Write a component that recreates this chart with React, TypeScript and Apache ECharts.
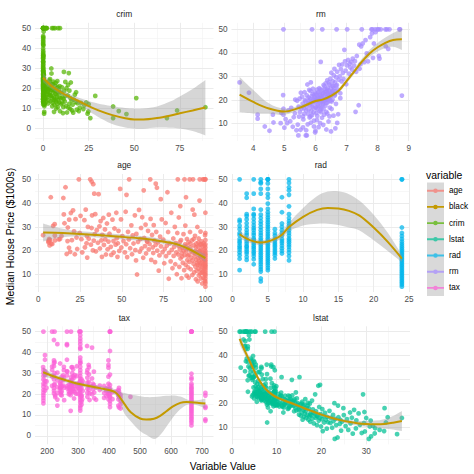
import { useEffect, useRef } from "react";
import * as echarts from "echarts";

type Pt = [number, number];

// ---------- observations: [variable value, median house price ($1000s)] ----------
const crimPoints: Pt[] = [
  [0.006,24.0],[0.027,21.6],[0.027,34.7],[0.032,33.4],[0.069,36.2],[0.030,28.7],[0.088,22.9],[0.145,27.1],[0.211,16.5],[0.170,18.9],
  [0.225,15.0],[0.117,18.9],[0.094,21.7],[0.630,20.4],[0.638,18.2],[0.627,19.9],[0.805,23.1],[0.726,17.5],[0.842,20.2],[0.672,18.2],
  [0.750,13.6],[0.848,19.6],[0.672,15.2],[0.880,14.5],[0.522,15.6],[0.470,13.9],[0.330,16.6],[0.250,14.8],[0.410,18.4],[0.080,21.0],
  [0.110,12.7],[0.060,14.5],[0.100,13.2],[0.050,13.1],[0.040,25.0],[0.020,30.8],[0.060,34.9],[0.040,26.6],[0.050,25.3],[0.040,24.7],
  [0.020,21.2],[0.050,19.3],[0.070,20.0],[0.060,16.6],[0.030,14.4],[0.090,19.4],[0.040,19.7],[0.020,20.5],[0.180,25.0],[0.130,23.4],
  [0.010,35.4],[0.020,24.7],[0.030,31.6],[0.030,23.3],[0.070,18.7],[0.020,16.0],[0.040,22.2],[0.040,33.0],[0.060,22.0],[0.020,17.4],
  [0.100,20.9],[0.360,24.2],[0.140,21.7],[0.070,22.8],[0.080,23.4],[0.050,24.1],[0.120,20.0],[0.290,20.8],[0.540,21.2],[0.060,28.0],
  [0.160,24.8],[0.090,26.6],[0.050,22.5],[0.030,23.6],[0.040,28.7],[0.030,20.6],[0.050,28.4],[0.030,38.7],[0.040,43.8],[0.030,33.2],
  [0.300,27.5],[0.440,26.5],[0.210,18.6],[0.170,19.5],[0.270,19.4],[0.340,22.8],[0.090,18.5],[0.280,19.2],[0.550,21.4],[0.250,15.7],
  [0.430,16.2],[0.350,18.0],[0.020,14.3],[0.040,15.6],[0.030,17.1],[0.030,13.3],[0.120,14.0],[0.160,13.4],[0.050,11.8],[0.010,14.6],
  [0.060,21.5],[0.130,41.3],[0.150,24.3],[0.030,27.0],[0.020,37.2],[0.030,39.8],[0.050,41.7],[0.060,43.1],[0.090,44.8],[0.040,46.0],
  [0.310,48.3],[0.060,45.4],[0.020,42.3],[0.040,36.5],[0.070,37.9],[0.130,36.1],[0.020,29.9],[0.080,32.0],[0.100,29.1],[0.050,30.1],
  [0.550,7.2],[0.620,8.1],[0.450,11.9],[0.750,12.3],[0.820,11.7],[0.680,10.9],
  [0.014,50.0],[0.015,50.0],[0.020,50.0],[0.056,50.0],[0.058,50.0],[0.061,50.0],[0.130,50.0],[0.527,50.0],[0.612,50.0],[0.330,50.0],
  [1.463,50.0],[1.519,50.0],[1.834,50.0],[2.010,50.0],[4.898,50.0],[5.670,50.0],[6.539,50.0],[8.267,50.0],[9.232,50.0],
  [1.2,14.5],[1.1,19.4],[1.3,17.8],[1.4,15.6],[1.6,13.1],[1.8,19.6],[1.5,21.5],[2.0,17.0],[2.3,15.3],[2.4,19.4],
  [2.9,19.1],[3.3,22.2],[3.5,23.7],[3.7,17.8],[3.8,24.5],[4.0,20.0],[4.1,13.4],[4.2,16.1],[4.5,29.8],[4.6,27.3],
  [4.8,21.9],[4.9,15.0],[5.2,12.7],[5.4,19.1],[5.6,23.2],[5.8,18.3],[5.9,14.1],[6.2,11.7],[6.5,21.2],[6.7,17.2],
  [6.9,22.6],[7.0,13.4],[7.4,19.9],[7.6,15.6],[7.8,23.5],[8.0,10.4],[8.2,17.7],[8.6,19.0],[8.8,12.8],[9.0,21.0],
  [9.3,8.4],[9.6,14.9],[9.9,12.0],[10.1,17.4],[10.3,20.4],[10.7,15.2],[11.1,10.5],[11.4,28.1],[11.6,18.6],[11.9,13.3],
  [12.2,23.1],[12.5,11.0],[12.8,19.9],[13.1,7.8],[13.5,16.3],[13.7,21.6],[14.1,27.5],[14.3,12.1],[14.4,18.7],[14.8,9.6],
  [15.0,15.0],[15.2,22.8],[15.6,13.8],[15.9,8.8],[16.2,11.7],[16.8,14.3],[17.4,16.7],[17.9,13.0],[18.1,17.9],[18.5,9.2],
  [18.8,12.4],[19.6,8.5],[20.1,10.2],[20.7,12.6],[22.1,9.5],[22.6,11.3],[23.6,12.8],[24.4,7.2],[24.8,8.3],[25.0,11.9],
  [25.9,5.0],[28.6,16.1],[38.4,10.8],[38.4,5.0],[41.5,8.5],[45.7,7.0],[51.1,15.0],[67.9,5.0],[73.5,8.8],[89.0,10.4],
  [2.7,12.3],[3.1,16.8],[5.0,10.9],[6.0,8.1],[7.2,9.8],[8.4,13.9],[10.9,7.5],[12.0,16.1],[13.9,10.2],[16.5,7.7],
  [1.7,23.0],[2.2,20.8],[2.6,18.1],[3.0,14.0],[3.4,19.9],[3.9,16.5],[4.4,21.4],[4.7,18.9],[5.1,16.2],[5.5,21.9],
  [6.1,15.1],[6.4,18.8],[6.8,14.2],[7.3,16.9],[7.7,12.1],[8.1,20.4],[8.9,15.4],[9.4,17.9],[10.5,12.7],[11.3,14.6],
];

const rmPoints: Pt[] = [
  [3.56,27.5],[3.86,23.1],[4.14,13.8],[4.14,12.1],[4.37,8.8],[4.52,7.0],[4.63,13.8],[4.65,10.5],[4.88,10.2],[4.90,14.6],
  [4.96,22.1],[4.97,50.0],[4.97,13.8],[4.97,16.3],
  [5.00,8.3],[5.04,11.9],[5.09,10.2],[5.13,15.6],[5.19,11.0],[5.22,16.7],[5.27,8.7],[5.30,12.7],[5.34,14.4],[5.35,20.2],
  [5.39,7.2],[5.41,19.7],[5.43,9.6],[5.45,5.0],[5.46,17.2],[5.47,13.0],[5.49,20.6],[5.50,14.9],[5.52,7.4],[5.53,23.1],
  [5.55,16.3],[5.57,21.4],[5.59,18.5],[5.60,13.1],[5.61,11.8],[5.63,16.5],[5.65,23.3],[5.66,20.0],[5.68,19.4],[5.69,5.0],
  [5.70,15.6],[5.71,17.4],[5.72,22.0],[5.74,26.6],[5.75,9.7],[5.76,14.1],[5.77,18.7],[5.78,21.1],[5.79,19.8],[5.80,24.3],
  [5.81,12.6],[5.82,17.8],[5.83,20.6],[5.84,23.9],[5.85,27.5],[5.86,15.3],[5.87,19.1],[5.88,21.7],[5.89,50.0],[5.89,13.6],
  [5.90,18.4],[5.91,22.6],[5.92,24.8],[5.93,16.6],[5.94,20.3],[5.95,11.3],[5.96,19.5],[5.97,21.2],[5.98,23.1],[5.99,6.3],
  [6.00,17.0],[6.00,18.9],[6.01,20.1],[6.02,22.4],[6.03,14.5],[6.04,19.6],[6.05,24.4],[6.06,16.1],[6.07,21.0],[6.08,18.2],
  [6.09,23.3],[6.10,8.5],[6.11,19.9],[6.12,25.0],[6.13,20.8],[6.14,15.4],[6.15,22.2],[6.16,17.2],[6.17,36.2],[6.18,21.5],
  [6.19,19.3],[6.20,24.1],[6.21,12.5],[6.22,50.0],[6.23,20.6],[6.24,23.0],[6.25,18.0],[6.26,26.4],[6.27,21.7],[6.28,13.8],
  [6.29,19.8],[6.30,24.7],[6.31,22.5],[6.32,17.6],[6.33,27.1],[6.34,20.3],[6.35,15.0],[6.36,23.8],[6.37,21.1],[6.38,28.4],
  [6.39,19.0],[6.40,25.3],[6.41,22.0],[6.42,10.9],[6.43,24.0],[6.44,20.7],[6.45,26.6],[6.46,16.8],[6.47,23.1],[6.48,29.1],
  [6.49,21.4],[6.50,24.8],[6.51,31.6],[6.52,19.4],[6.53,26.2],[6.55,22.8],[6.56,28.0],[6.57,24.0],[6.58,13.4],[6.59,30.5],
  [6.60,25.0],[6.61,33.2],[6.62,21.9],[6.63,27.5],[6.64,8.0],[6.65,23.7],[6.67,29.6],[6.68,50.0],[6.69,26.4],[6.70,32.0],
  [6.72,24.5],[6.73,14.0],[6.75,28.6],[6.76,34.9],[6.78,30.1],[6.80,22.9],[6.82,33.1],[6.84,27.9],[6.86,35.1],[6.88,31.5],
  [6.90,29.0],[6.93,41.3],[6.95,36.4],[6.97,32.5],[6.99,26.7],[7.01,34.7],[7.02,50.0],[7.05,37.0],[7.08,31.2],[7.10,35.4],
  [7.12,33.8],[7.15,36.2],[7.18,32.9],[7.20,37.6],[7.24,34.6],[7.27,36.5],[7.29,15.0],[7.31,32.0],[7.33,38.7],[7.39,17.8],
  [7.41,43.5],[7.42,33.3],[7.45,35.2],[7.47,42.8],[7.49,50.0],[7.52,44.0],[7.57,36.1],[7.61,45.4],[7.65,39.8],[7.69,36.4],
  [7.76,46.7],[7.80,50.0],[7.82,48.3],[7.83,50.0],[7.85,37.9],[7.88,44.0],[7.92,50.0],[7.93,48.8],[8.00,50.0],[8.03,50.0],
  [8.04,38.7],[8.06,37.6],[8.10,50.0],[8.25,50.0],[8.26,42.8],[8.30,50.0],[8.34,41.7],[8.38,50.0],[8.70,50.0],[8.72,50.0],
  [8.78,21.9],[5.60,8.4],[5.70,7.2],[5.85,10.4],[5.95,8.8],[6.00,7.0],[6.05,11.5],[6.15,10.2],[6.25,9.5],[6.35,7.5],
  [6.50,6.7],[6.70,10.3],[5.72,5.0],[6.45,13.1],[6.18,14.9],
  [5.88,17.2],[5.92,19.8],[5.96,22.0],[6.02,16.8],[6.04,21.8],[6.08,20.5],[6.10,17.5],[6.12,22.8],[6.14,19.0],[6.16,24.6],
  [6.19,16.5],[6.21,21.0],[6.23,18.6],[6.25,22.9],[6.27,19.5],[6.29,25.8],[6.31,20.0],[6.33,23.6],[6.35,18.8],[6.37,24.4],
  [6.39,22.6],[6.41,20.4],[6.43,27.5],[6.45,22.2],[6.47,19.6],[6.53,23.3],[6.55,20.2],[6.57,25.9],[6.63,22.4],[6.66,26.0],
  [5.64,14.2],[5.78,16.0],[5.84,13.1],[5.94,14.8],[6.06,13.3],[6.26,16.1],[6.38,14.3],[6.52,16.2],[6.66,18.4],[6.80,20.8],
];

const agePoints: Pt[] = [
  [2.9,26.6],[6.0,24.1],[6.2,23.5],[6.5,25.0],[6.6,24.4],[6.8,22.3],[7.0,24.6],[7.5,42.5],[7.8,23.0],[8.4,22.9],
  [8.9,30.5],[9.8,31.2],[9.9,26.4],[10.0,24.4],[12.3,24.8],[13.0,25.0],[13.9,26.2],[15.3,35.3],[15.7,31.6],[16.3,46.7],
  [15.0,42.2],[17.0,18.7],[17.5,24.1],[17.7,29.8],[18.4,21.3],[18.5,33.1],[19.1,19.6],[19.5,35.9],[20.1,24.5],[20.8,37.0],
  [21.4,28.2],[21.9,18.6],[22.3,33.3],[22.9,25.6],[23.3,20.8],[24.3,50.0],[24.8,27.5],[25.3,34.7],[25.8,24.9],[26.3,19.4],
  [27.6,32.9],[27.9,21.5],[28.4,37.3],[28.9,23.2],[29.1,26.2],[29.3,17.2],[29.7,30.1],[30.2,25.1],[31.1,50.0],[31.5,22.6],
  [31.9,29.6],[32.0,49.0],[32.2,34.9],[32.7,20.2],[32.9,48.0],[33.2,24.3],[33.5,44.0],[33.8,27.0],[34.1,35.4],[34.5,19.8],
  [35.0,28.7],[35.7,23.4],[36.1,43.8],[36.6,30.3],[36.9,21.0],[37.3,32.5],[37.8,24.4],[38.1,17.5],[38.3,26.7],[38.9,33.8],
  [39.3,22.5],[39.9,29.0],[40.1,24.8],[40.5,18.5],[41.1,31.5],[41.5,20.7],[42.0,23.9],[42.2,35.2],[42.6,27.2],[43.4,21.7],
  [43.7,18.3],[44.4,33.1],[45.0,24.1],[45.1,19.3],[45.6,29.4],[46.3,22.6],[46.7,36.0],[47.0,25.3],[47.4,17.5],[47.6,23.2],
  [48.0,28.4],[48.5,20.0],[49.0,46.0],[49.5,33.2],[49.7,21.4],[50.3,26.2],[51.0,24.1],[51.8,19.4],[52.3,36.4],[52.6,22.8],
  [52.8,43.5],[53.2,17.4],[53.7,28.0],[54.2,24.8],[54.4,50.0],[55.0,21.1],[55.7,30.7],[56.1,18.6],[56.5,26.5],[57.0,23.1],
  [57.8,34.9],[58.1,20.3],[58.5,16.0],[58.7,27.1],[59.1,10.1],[59.7,23.8],[60.3,37.2],[60.7,19.7],[61.1,24.9],[61.5,29.6],
  [61.8,21.0],[62.2,34.1],[62.8,17.1],[63.1,45.4],[63.4,25.4],[63.9,22.0],[64.2,31.0],[64.5,18.9],[65.1,23.9],[65.2,24.0],
  [65.7,28.4],[66.1,20.6],[66.6,22.9],[67.0,50.0],[67.2,33.4],[67.6,16.2],[68.1,26.7],[68.5,21.5],[68.8,19.1],[69.1,30.8],
  [69.5,24.3],[69.9,15.3],[70.2,22.5],[70.3,48.2],[70.6,28.0],[71.0,46.5],[71.2,20.1],[71.7,23.6],[72.1,11.7],[72.5,18.1],
  [72.9,26.0],[73.3,41.7],[73.4,21.9],[73.9,33.2],[74.4,19.5],[74.8,24.7],[75.4,14.8],[75.7,20.8],[76.2,31.7],[76.5,17.8],
  [76.9,22.2],[77.3,44.6],[77.7,27.9],[78.1,8.3],[78.3,19.2],[78.7,23.1],[79.2,15.6],[79.6,36.0],[79.9,20.4],[80.3,12.7],
  [80.8,25.2],[81.0,17.9],[81.3,21.7],[81.7,30.1],[82.0,14.4],[82.3,23.3],[82.6,19.4],[82.9,10.2],[83.2,27.5],[83.5,50.0],
  [83.7,18.5],[84.0,22.0],[84.1,34.0],[84.4,13.3],[84.7,20.6],[85.0,38.8],[85.1,16.8],[85.4,24.5],[85.7,8.5],[85.9,19.0],
  [86.3,21.2],[86.5,15.0],[86.9,27.0],[87.3,11.9],[87.5,50.0],[87.6,18.2],[87.9,22.7],[88.0,30.6],[88.4,42.5],[88.2,14.2],
  [88.5,19.9],[88.8,9.6],[89.0,25.0],[89.2,16.1],[89.5,20.9],[89.6,13.1],[89.9,23.7],[90.0,8.8],[90.3,18.4],[90.6,50.0],
  [90.4,15.4],[90.8,27.9],[91.0,21.4],[91.2,12.3],[91.5,17.2],[92.0,24.4],[92.2,9.9],[92.4,37.3],[92.6,50.0],[92.7,19.3],
  [92.9,14.6],[93.1,22.3],[93.4,35.2],[93.3,11.0],[93.6,17.7],[93.8,26.3],[94.0,13.4],[94.1,20.0],[94.3,8.1],[94.5,16.3],
  [94.6,23.1],[94.8,11.7],[95.0,19.5],[95.2,30.0],[95.3,14.1],[95.4,7.2],[95.6,21.8],[95.7,17.0],[95.9,12.5],[96.0,25.2],
  [96.1,9.7],[96.2,15.6],[96.4,19.9],[96.6,50.0],[96.5,41.1],[96.7,13.9],[96.8,22.6],[96.9,10.5],[97.0,17.4],[97.1,28.1],
  [97.2,14.9],[97.3,8.4],[97.4,20.5],[97.5,12.0],[97.6,16.5],[97.7,24.0],[97.8,10.9],[97.9,18.8],[98.0,13.5],[98.1,6.3],
  [98.2,21.9],[98.3,15.2],[98.4,11.3],[98.5,50.0],[98.6,19.1],[98.7,8.8],[98.8,14.3],[98.9,23.2],[99.0,12.7],[99.1,17.8],
  [99.2,50.0],[99.3,10.4],[99.4,16.0],[99.5,20.6],[99.6,7.5],[99.7,13.8],[99.8,26.6],[99.9,50.0],
  [100,5.0],[100,6.3],[100,7.2],[100,8.4],[100,9.5],[100,10.2],[100,11.0],[100,11.9],[100,12.7],[100,13.4],
  [100,14.1],[100,14.8],[100,15.6],[100,16.3],[100,17.2],[100,18.1],[100,19.0],[100,20.0],[100,21.4],[100,22.7],
  [100,24.5],[100,27.5],[100,36.0],[100,50.0],
  [84.8,23.8],[86.0,17.6],[87.0,20.1],[88.6,22.1],[89.4,18.0],[90.9,23.0],[91.6,19.9],[92.3,16.0],[93.0,25.0],[93.9,18.9],
  [94.4,21.6],[95.1,15.0],[95.8,23.5],[96.3,18.3],[96.9,20.0],[97.6,22.8],[98.3,18.0],[98.9,16.7],[99.5,22.2],[99.7,18.6],
];

const radPoints: Pt[] = [
  [1,50.0],[1,33.0],[1,32.2],[1,30.5],[1,29.1],[1,27.5],[1,26.6],[1,25.0],[1,24.0],[1,23.3],
  [1,22.2],[1,21.4],[1,20.5],[1,19.4],[1,18.2],[1,16.7],[1,11.9],
  [2,44.0],[2,42.3],[2,35.4],[2,34.6],[2,33.2],[2,31.6],[2,30.1],[2,28.7],[2,27.5],[2,26.6],
  [2,25.0],[2,24.0],[2,23.1],[2,22.0],[2,21.6],[2,20.6],[2,19.7],[2,18.9],[2,17.5],[2,16.2],
  [3,50.0],[3,44.0],[3,37.6],[3,35.4],[3,34.9],[3,33.4],[3,32.0],[3,30.7],[3,29.6],[3,28.7],
  [3,27.5],[3,26.6],[3,25.3],[3,24.7],[3,23.9],[3,23.1],[3,22.2],[3,21.4],[3,20.6],[3,19.6],
  [3,18.9],[3,17.8],[3,16.5],[3,14.4],
  [4,50.0],[4,48.8],[4,48.3],[4,46.0],[4,44.0],[4,37.3],[4,35.2],[4,33.8],[4,32.4],[4,31.2],
  [4,29.9],[4,28.7],[4,27.5],[4,26.5],[4,25.3],[4,24.4],[4,23.5],[4,22.6],[4,21.7],[4,20.8],
  [4,19.9],[4,19.0],[4,18.1],[4,17.2],[4,16.3],[4,15.3],[4,14.4],[4,13.3],[4,12.3],[4,11.3],
  [4,8.4],[4,7.2],
  [5,50.0],[5,50.0],[5,50.0],[5,48.3],[5,46.0],[5,43.8],[5,42.3],[5,39.8],[5,37.6],[5,36.2],
  [5,35.1],[5,34.0],[5,33.0],[5,32.0],[5,31.0],[5,30.1],[5,29.1],[5,28.1],[5,27.1],[5,26.2],
  [5,25.3],[5,24.4],[5,23.6],[5,22.8],[5,22.0],[5,21.2],[5,20.4],[5,19.6],[5,18.8],[5,18.0],
  [5,17.2],[5,16.4],[5,15.6],[5,14.8],[5,13.9],[5,12.9],[5,11.9],
  [6,29.1],[6,27.5],[6,26.4],[6,25.0],[6,24.2],[6,23.3],[6,22.5],[6,21.7],[6,20.8],[6,19.9],
  [6,19.1],[6,18.2],[6,16.8],
  [7,42.5],[7,36.2],[7,31.5],[7,30.1],[7,28.7],[7,27.5],[7,26.4],[7,25.0],[7,24.1],[7,23.3],
  [7,22.2],[7,21.1],[7,20.0],[7,18.9],
  [8,50.0],[8,48.5],[8,46.7],[8,45.4],[8,43.5],[8,38.7],[8,35.4],[8,33.8],[8,32.5],[8,31.5],
  [8,30.5],[8,29.6],[8,28.6],[8,27.5],[8,26.4],[8,25.2],[8,24.4],[8,23.6],[8,22.6],[8,21.7],
  [8,20.5],[8,19.3],[8,17.8],[8,16.0],
  [24,50.0],[24,50.0],[24,29.8],[24,27.5],[24,26.2],[24,25.0],[24,23.9],[24,23.0],[24,22.2],[24,21.4],
  [24,20.6],[24,19.9],[24,19.1],[24,18.4],[24,17.7],[24,17.0],[24,16.3],[24,15.6],[24,14.9],[24,14.2],
  [24,13.5],[24,12.8],[24,12.1],[24,11.4],[24,10.7],[24,10.0],[24,9.3],[24,8.6],[24,7.9],[24,7.2],
  [24,6.5],[24,5.8],[24,5.0],
];

const taxPoints: Pt[] = [
  [188,50.0],[187,33.0],[188,31.6],[188,30.1],[188,28.6],[188,27.0],[188,25.0],[188,23.6],[188,22.0],[188,20.6],
  [188,19.4],[188,18.2],[188,16.9],[188,15.6],[193,38.7],[193,36.5],[193,31.1],[193,29.1],[193,26.4],[193,24.7],
  [193,21.7],[198,29.9],[198,26.1],[198,23.0],
  [216,50.0],[216,33.2],[216,31.6],[216,28.5],[216,24.0],[222,46.0],[222,36.2],[222,34.9],[222,33.4],[222,28.7],
  [222,27.1],[222,22.9],[222,21.7],[222,20.4],[223,24.4],[224,50.0],[224,35.4],[224,30.1],[224,24.8],[226,19.4],
  [226,18.6],
  [233,44.0],[233,30.3],[233,26.6],[233,23.3],[233,20.6],[233,17.4],[233,14.5],[242,34.7],[242,21.6],[242,25.3],
  [242,23.0],[243,22.9],[243,24.7],[244,23.6],[244,19.8],[245,23.2],[245,20.7],[245,26.4],[247,23.9],[247,21.4],
  [247,28.4],[247,19.4],[252,29.0],[252,26.6],[252,24.1],[254,28.0],[254,31.5],[254,33.1],[255,23.1],[255,17.1],
  [264,50.0],[264,44.0],[264,43.5],[264,36.5],[264,31.0],[264,29.0],[264,23.8],[265,30.8],[265,22.8],[270,23.3],
  [270,24.5],[270,21.4],[270,20.0],[273,22.4],[273,20.5],[276,26.6],[276,24.6],[276,22.2],[276,21.0],[276,19.5],
  [276,12.0],[277,28.1],[277,25.5],[277,50.0],[279,32.9],[279,24.4],[279,23.4],[280,21.2],[281,33.0],[281,30.1],
  [281,26.7],[281,24.0],[284,32.0],[284,28.5],[284,22.5],[285,23.7],[285,21.5],[287,27.9],[287,17.9],[289,29.1],
  [289,21.0],[293,25.0],[293,22.6],[293,20.2],[296,24.0],[296,33.4],[296,28.7],
  [304,50.0],[307,50.0],[307,50.0],[307,48.3],[307,46.7],[307,45.4],[307,44.0],[307,42.3],[307,41.7],[307,37.6],
  [307,36.1],[307,35.1],[307,34.9],[307,33.1],[307,31.5],[307,30.1],[307,28.7],[307,27.5],[307,26.4],[307,25.0],
  [307,24.0],[307,23.0],[307,22.2],[307,21.4],[307,20.3],[307,19.4],[307,18.4],[307,17.2],[307,16.0],[307,14.4],
  [307,13.3],[307,12.1],[300,23.1],[300,20.1],[304,24.3],[304,25.7],[304,21.9],[311,27.1],[311,16.5],[311,18.9],
  [311,15.0],[311,22.9],[311,19.4],[313,17.5],[313,25.2],[315,26.2],[315,21.6],
  [329,43.1],[329,30.3],[330,31.6],[330,27.9],[330,25.6],[330,22.6],[330,20.6],[330,18.7],[334,34.0],[334,24.0],
  [335,32.9],[335,29.5],[335,25.9],[335,22.1],[337,17.2],[337,20.4],[345,42.3],[345,27.5],[345,23.8],[345,20.0],
  [348,25.0],[348,22.3],[351,30.8],[351,24.3],[352,20.8],[352,18.1],[358,23.2],[358,17.3],
  [370,22.0],[370,24.1],[384,20.5],[384,23.9],[384,18.2],[391,21.4],[391,19.1],[391,22.7],[398,36.2],[398,34.0],
  [398,32.7],[398,28.4],[398,25.0],[398,23.1],[398,21.0],[398,19.6],[398,17.5],[398,20.3],[403,50.0],[403,50.0],
  [403,50.0],[403,40.7],[403,29.4],[403,24.4],[403,22.8],[403,21.7],[403,20.1],[403,19.0],[403,18.4],[403,16.7],
  [403,15.4],[403,13.8],
  [411,20.9],[411,17.6],[422,21.2],[430,22.0],[430,19.4],[430,17.5],[430,14.5],[432,23.0],[432,21.4],[432,20.3],
  [432,18.7],[432,13.6],[437,19.7],[437,18.3],[437,15.2],[437,13.1],[437,16.6],[469,18.7],
  [666,50.0],[666,50.0],[666,50.0],[666,50.0],[666,50.0],[666,29.8],[666,27.9],[666,27.1],[666,25.0],[666,24.1],
  [666,23.2],[666,22.7],[666,21.9],[666,21.2],[666,20.5],[666,19.9],[666,19.2],[666,18.5],[666,17.8],[666,17.1],
  [666,16.4],[666,15.6],[666,14.9],[666,14.1],[666,13.4],[666,12.7],[666,12.0],[666,11.3],[666,10.5],[666,9.7],
  [666,8.8],[666,8.1],[666,7.2],[666,6.3],[666,5.0],
  [711,20.6],[711,19.3],[711,14.0],[711,13.4],[711,7.9],[711,7.2],
];

const lstatPoints: Pt[] = [
  [1.73,50.0],[1.92,50.0],[2.47,50.0],[2.88,50.0],[2.96,50.0],[3.16,50.0],[3.26,50.0],[3.32,50.0],[3.73,50.0],[4.14,50.0],
  [4.45,50.0],[5.12,50.0],[5.29,50.0],[7.44,50.0],[8.88,50.0],[9.53,50.0],
  [1.98,34.9],[2.60,46.7],[2.88,43.8],[2.94,33.4],[2.97,44.0],[3.01,46.0],[3.11,42.8],[3.13,37.6],[3.33,38.7],[3.53,29.6],
  [3.54,42.8],[3.56,37.3],[3.57,43.8],[3.59,24.8],[3.70,35.4],[3.76,31.5],[3.81,48.5],[3.92,46.7],[3.95,31.6],[4.03,34.7],
  [4.16,33.1],[4.21,38.7],[4.32,30.7],[4.38,37.9],[4.45,36.5],[4.50,22.8],[4.54,36.1],[4.56,29.8],[4.59,35.1],[4.61,31.2],
  [4.67,23.5],[4.69,30.5],[4.73,39.8],[4.81,35.4],[4.82,37.9],[4.84,26.6],[4.85,31.0],[4.86,33.2],[4.97,22.0],[4.98,24.0],
  [5.03,31.1],[5.04,37.2],[5.08,24.6],[5.10,25.0],[5.19,23.7],[5.21,28.7],[5.25,31.7],[5.33,36.2],[5.39,34.9],[5.49,24.5],
  [5.50,23.8],[5.52,22.8],[5.57,20.6],[5.64,23.9],[5.68,22.6],[5.70,28.1],[5.77,24.3],[5.81,25.3],[5.89,26.6],[5.90,33.0],
  [5.98,22.2],[5.99,24.5],[6.05,23.6],[6.07,24.0],[6.12,25.0],[6.15,23.0],[6.19,33.1],[6.21,25.0],[6.27,23.1],[6.29,24.6],
  [6.36,23.1],[6.43,24.1],[6.47,22.5],[6.53,26.6],[6.56,21.2],[6.57,21.9],[6.58,35.2],[6.59,23.4],[6.62,34.6],[6.65,21.4],
  [6.68,32.0],[6.72,22.2],[6.73,22.6],[6.75,23.3],[6.78,24.1],[6.86,23.3],[6.87,23.1],[6.90,30.1],[6.92,22.0],[7.01,23.7],
  [7.12,27.5],[7.14,23.2],[7.18,23.5],[7.19,21.6],[7.20,24.8],[7.22,21.1],[7.26,22.9],[7.34,22.6],[7.37,23.3],[7.39,23.3],
  [7.43,24.1],[7.51,22.6],[7.53,28.2],[7.54,23.4],[7.56,23.9],[7.60,30.1],[7.67,26.4],[7.70,20.4],[7.73,24.0],[7.74,23.7],
  [7.79,36.2],[7.83,19.4],[7.85,32.2],[7.88,11.9],[7.90,21.6],[8.01,21.1],[8.05,18.2],[8.10,20.0],[8.16,22.0],[8.20,21.9],
  [8.23,22.0],[8.26,20.4],[8.43,23.1],[8.44,22.8],[8.47,19.9],[8.51,20.6],[8.58,23.9],[8.61,30.3],[8.65,16.6],[8.67,26.4],
  [8.77,21.0],[8.79,36.2],[8.81,35.4],[8.93,28.4],[9.04,23.6],[9.08,20.6],[9.09,19.8],[9.10,20.3],[9.14,21.6],[9.16,24.3],
  [9.22,19.6],[9.25,20.9],[9.28,35.1],[9.29,18.7],[9.38,21.2],[9.42,27.5],[9.43,20.5],[9.45,26.6],[9.47,25.0],[9.50,25.0],
  [9.51,24.8],[9.52,21.7],[9.54,23.9],[9.55,21.0],[9.59,33.8],[9.62,23.9],[9.64,22.6],[9.67,22.4],[9.69,22.2],[9.71,26.2],
  [9.74,19.0],[9.80,19.5],[9.81,25.0],[9.88,21.7],[9.93,27.1],[9.97,19.3],[10.1,19.6],[10.2,19.3],[10.3,19.2],[10.4,21.7],
  [10.5,20.0],[10.6,18.6],[10.7,22.7],[10.9,23.2],[11.0,24.4],[11.1,30.9],[11.1,23.0],[11.2,19.0],[11.3,21.8],[11.4,20.2],
  [11.5,16.1],[11.6,18.2],[11.7,19.4],[11.8,20.0],[11.9,23.1],[12.0,21.2],[12.1,20.8],[12.3,21.2],[12.4,20.1],[12.5,17.6],
  [12.6,23.2],[12.7,21.1],[12.8,18.4],[12.9,22.9],[13.0,21.7],[13.1,18.9],[13.2,21.5],[13.3,20.4],[13.4,29.8],[13.4,19.3],
  [13.5,23.3],[13.6,20.6],[13.7,19.7],[13.8,18.8],[13.9,16.6],[14.0,21.6],[14.1,20.4],[14.3,24.5],[14.4,17.0],[14.5,22.0],
  [14.6,19.4],[14.7,20.0],[14.8,18.9],[15.0,15.2],[15.1,17.5],[15.1,30.9],[15.3,19.4],[15.4,14.8],[15.5,18.2],[15.6,16.1],
  [15.7,20.6],[15.8,13.1],[15.9,19.1],[16.0,17.1],[16.1,14.3],[16.2,19.4],[16.3,15.6],[16.4,21.7],[16.5,16.6],[16.6,13.8],
  [16.7,18.0],[16.9,15.0],[17.0,20.1],[17.1,13.1],[17.2,17.8],[17.3,14.5],[17.4,19.8],[17.5,12.2],[17.6,16.2],[17.8,14.9],
  [17.9,21.1],[18.0,13.5],[18.1,17.4],[18.3,11.5],[18.5,15.6],[18.6,23.7],[18.7,13.9],[18.8,16.6],[19.0,10.8],[19.1,14.4],
  [19.3,27.3],[19.4,12.7],[19.5,18.4],[19.7,27.7],[19.8,15.4],[19.9,10.2],[20.1,13.3],[20.2,17.5],[20.3,8.3],[20.5,14.6],
  [20.6,11.9],[20.8,15.9],[21.0,13.1],[21.2,9.3],[21.3,14.2],[21.5,12.0],[21.8,16.8],[22.0,11.7],[22.1,13.8],[22.4,9.7],
  [22.6,15.1],[22.7,12.5],[22.9,20.0],[22.98,5.0],[23.1,13.4],[23.3,10.8],[23.6,5.6],[23.7,19.0],[23.8,14.1],[24.1,11.3],
  [24.2,13.0],[24.4,8.5],[24.6,12.2],[24.9,17.9],[25.0,15.0],[25.4,10.4],[25.7,13.3],[26.0,8.8],[26.4,16.1],[26.5,11.5],
  [26.8,13.9],[27.0,7.2],[27.3,17.2],[27.7,9.4],[27.8,12.8],[28.3,15.7],[28.6,10.9],[29.0,7.5],[29.3,23.7],[29.5,11.7],
  [29.6,16.3],[29.7,8.1],[30.0,13.8],[30.59,5.0],[30.8,10.2],[31.0,12.7],[31.1,6.1],[31.5,10.5],[31.9,7.3],[32.0,9.5],
  [33.0,8.8],[34.0,8.3],[34.1,17.9],[34.4,11.9],[34.8,14.1],[36.9,7.0],[37.97,13.8],
  [5.3,27.0],[5.6,26.1],[5.9,29.4],[6.3,27.9],[6.7,26.0],[7.1,25.8],[7.5,26.9],[7.9,24.9],[8.3,24.5],[8.7,22.4],
  [9.2,22.9],[9.6,20.7],[10.0,21.0],[10.4,23.8],[10.8,19.9],[11.3,18.5],[11.8,21.7],[12.2,19.5],[12.7,17.9],[13.2,20.1],
  [13.8,21.0],[14.2,18.1],[14.9,17.2],[15.6,19.8],[16.3,17.7],[16.9,18.9],[17.5,15.2],[18.2,16.0],[18.9,14.8],[19.6,13.8],
];

// ---------- loess smooth: evaluation points, fit and 95% band ----------
const crimSmoothX = [0, 5, 10, 15, 20, 25, 30, 37.5, 45, 50, 55, 62.5, 70, 75, 82, 89];
const crimFit   = [25.2, 20.8, 17.8, 15.4, 13.3, 11.0, 9.0, 6.6, 4.9, 4.3, 4.3, 5.0, 6.3, 7.4, 8.8, 10.3];
const crimUpper = [27.5, 22.3, 19.2, 16.8, 15.0, 13.5, 12.3, 11.0, 10.0, 9.7, 9.8, 10.8, 13.4, 15.8, 19.5, 24.0];
const crimLower = [22.9, 19.3, 16.4, 14.0, 11.6, 8.5, 5.7, 2.2, 0.3, -0.2, -0.3, 0.3, 0.2, -0.2, -1.5, -3.7];

const rmSmoothX = [3.56, 4.0, 4.5, 5.0, 5.5, 6.0, 6.25, 6.5, 6.75, 7.0, 7.25, 7.5, 7.75, 8.0, 8.25, 8.5, 8.78];
const rmFit   = [22.3, 19.2, 16.4, 15.1, 16.8, 19.6, 20.3, 21.8, 24.0, 28.0, 32.2, 36.4, 39.9, 42.4, 44.3, 45.5, 45.8];
const rmUpper = [29.8, 24.3, 18.6, 16.3, 17.7, 20.2, 20.9, 22.6, 24.9, 29.0, 33.2, 37.6, 41.4, 44.2, 46.5, 48.4, 50.5];
const rmLower = [14.8, 14.3, 14.2, 13.8, 15.9, 19.0, 19.7, 21.0, 23.1, 27.0, 31.2, 35.2, 38.4, 40.6, 42.1, 42.6, 41.2];

const ageSmoothX = [2.9, 10, 20, 30, 40, 50, 60, 70, 80, 85, 90, 95, 100];
const ageFit   = [27.7, 27.6, 27.3, 26.9, 26.4, 25.9, 25.3, 24.5, 23.3, 22.3, 20.8, 19.0, 17.0];
const ageUpper = [31.5, 30.0, 28.6, 28.0, 27.4, 26.9, 26.3, 25.5, 24.3, 23.3, 21.9, 20.3, 18.7];
const ageLower = [23.9, 25.2, 26.0, 25.8, 25.4, 24.9, 24.3, 23.5, 22.3, 21.3, 19.7, 17.7, 15.3];

const radSmoothX = [1, 2, 3, 4, 5, 6, 7, 8, 10, 12, 13.5, 15, 16.5, 18, 20, 22, 24];
const radFit   = [27.0, 25.1, 24.0, 23.5, 23.9, 25.0, 26.8, 30.0, 34.3, 37.2, 38.0, 37.8, 36.8, 34.8, 29.8, 23.8, 16.8];
const radUpper = [28.6, 26.4, 25.1, 24.5, 24.9, 26.2, 28.3, 31.8, 38.0, 43.0, 44.9, 45.0, 43.8, 41.0, 35.2, 27.6, 18.3];
const radLower = [25.4, 23.8, 22.9, 22.5, 22.9, 23.8, 25.3, 28.2, 30.6, 31.4, 31.4, 30.9, 29.8, 28.6, 24.5, 20.0, 15.3];

const taxSmoothX = [187, 220, 260, 300, 335, 370, 400, 420, 435, 450, 470, 500, 520, 545, 565, 585, 605, 630, 650, 666, 690, 711];
const taxFit   = [30.5, 28.6, 26.7, 25.0, 23.9, 22.9, 22.0, 20.9, 18.5, 15.2, 11.3, 8.3, 7.8, 8.2, 9.6, 11.8, 14.0, 15.8, 16.2, 16.1, 15.8, 15.5];
const taxUpper = [32.8, 29.8, 27.8, 26.0, 24.9, 24.0, 23.3, 22.2, 21.2, 20.5, 19.8, 19.0, 18.6, 18.6, 18.9, 19.2, 19.4, 18.9, 17.6, 17.1, 17.2, 17.9];
const taxLower = [28.2, 27.4, 25.6, 24.0, 22.9, 21.8, 20.7, 19.6, 15.8, 10.6, 7.0, 2.3, 0.5, -1.5, 0.4, 4.4, 8.6, 12.7, 14.8, 15.1, 14.4, 13.1];

const lstatSmoothX = [1.73, 3, 4.5, 6, 7.5, 9, 10.5, 12, 14, 16, 18, 20, 22, 24, 26, 28, 30, 32, 34, 36, 37.97];
const lstatFit   = [47.0, 41.5, 35.5, 30.0, 26.0, 23.6, 22.0, 20.9, 19.5, 18.0, 16.6, 15.2, 14.0, 13.0, 12.2, 11.6, 11.3, 11.2, 11.3, 11.8, 12.5];
const lstatUpper = [49.4, 43.2, 36.8, 31.0, 26.9, 24.4, 22.7, 21.6, 20.2, 18.7, 17.3, 15.9, 14.8, 13.8, 13.1, 12.6, 12.5, 12.7, 13.3, 14.6, 16.7];
const lstatLower = [44.6, 39.8, 34.2, 29.0, 25.1, 22.8, 21.3, 20.2, 18.8, 17.3, 15.9, 14.5, 13.2, 12.2, 11.3, 10.6, 10.1, 9.7, 9.3, 9.0, 8.3];

// ---------- axis breaks ----------
const crimTicks = [0, 25, 50, 75];
const rmTicks = [4, 5, 6, 7, 8, 9];
const ageTicks = [0, 25, 50, 75, 100];
const radTicks = [0, 5, 10, 15, 20, 25];
const taxTicks = [200, 300, 400, 500, 600, 700];
const lstatTicks = [0, 10, 20, 30];
const priceTicksFromZero = [0, 10, 20, 30, 40, 50];
const priceTicks = [10, 20, 30, 40, 50];

const legendNames = ["age", "black", "crim", "lstat", "rad", "rm", "tax"];
const varColors: Record<string, string> = {
  age: "#F8766D", black: "#C49A00", crim: "#53B400", lstat: "#00C094",
  rad: "#00B6EB", rm: "#A58AFF", tax: "#FB61D7",
};

const FONT = "'Liberation Sans', Arial, Helvetica, sans-serif";
const PANEL_W = 178.5;
const PANEL_H = 118;
const COL_LEFT = [35, 231.5];
const ROW_TOP = [22.8, 174, 326.3];
const GRID_MAJOR = "#ebebeb";
const GRID_MINOR = "#f2f2f2";

interface Facet {
  key: string; col: number; row: number; points: Pt[];
  sx: number[]; fit: number[]; up: number[]; lo: number[];
  xTicks: number[]; yTicks: number[];
}

const facets: Facet[] = [
  { key: "crim", col: 0, row: 0, points: crimPoints, sx: crimSmoothX, fit: crimFit, up: crimUpper, lo: crimLower, xTicks: crimTicks, yTicks: priceTicksFromZero },
  { key: "rm", col: 1, row: 0, points: rmPoints, sx: rmSmoothX, fit: rmFit, up: rmUpper, lo: rmLower, xTicks: rmTicks, yTicks: priceTicks },
  { key: "age", col: 0, row: 1, points: agePoints, sx: ageSmoothX, fit: ageFit, up: ageUpper, lo: ageLower, xTicks: ageTicks, yTicks: priceTicks },
  { key: "rad", col: 1, row: 1, points: radPoints, sx: radSmoothX, fit: radFit, up: radUpper, lo: radLower, xTicks: radTicks, yTicks: priceTicks },
  { key: "tax", col: 0, row: 2, points: taxPoints, sx: taxSmoothX, fit: taxFit, up: taxUpper, lo: taxLower, xTicks: taxTicks, yTicks: priceTicksFromZero },
  { key: "lstat", col: 1, row: 2, points: lstatPoints, sx: lstatSmoothX, fit: lstatFit, up: lstatUpper, lo: lstatLower, xTicks: lstatTicks, yTicks: priceTicks },
];

// 5% padding on each side of the data range
function expand(lo: number, hi: number): [number, number] {
  const d = (hi - lo) * 0.05;
  return [lo - d, hi + d];
}

// midpoints between breaks, plus one step beyond each end when it still fits
function minorBreaks(major: number[], lo: number, hi: number): number[] {
  const step = major[1] - major[0];
  const out: number[] = [];
  [major[0] - step, ...major].forEach((m) => {
    const v = m + step / 2;
    if (v > lo && v < hi) out.push(v);
  });
  return out;
}

// cubic segments through pixel points (Catmull-Rom tangents), without the leading move
function curveThrough(p: number[][]): string {
  let d = "";
  for (let i = 0; i < p.length - 1; i++) {
    const p0 = p[Math.max(i - 1, 0)];
    const p1 = p[i];
    const p2 = p[i + 1];
    const p3 = p[Math.min(i + 2, p.length - 1)];
    const c1x = p1[0] + (p2[0] - p0[0]) / 6;
    const c1y = p1[1] + (p2[1] - p0[1]) / 6;
    const c2x = p2[0] - (p3[0] - p1[0]) / 6;
    const c2y = p2[1] - (p3[1] - p1[1]) / 6;
    d += `C${c1x.toFixed(2)},${c1y.toFixed(2)} ${c2x.toFixed(2)},${c2y.toFixed(2)} ${p2[0].toFixed(2)},${p2[1].toFixed(2)}`;
  }
  return d;
}

// line with a dot in the middle, as a legend key
const KEY_ICON =
  "path://M0,1.3H17V3.2H0Z M10.75,2.25A2.25,2.25,0,1,1,6.25,2.25A2.25,2.25,0,1,1,10.75,2.25Z";

function buildOption() {
  const grid: any[] = [];
  const xAxis: any[] = [];
  const yAxis: any[] = [];
  const series: any[] = [];
  const graphic: any[] = [];

  facets.forEach((f, i) => {
    const xs = f.points.map((d) => d[0]);
    const ys = f.points.map((d) => d[1]);
    const xr = expand(Math.min(...xs), Math.max(...xs));
    const yr = expand(Math.min(...ys, ...f.lo), Math.max(...ys, ...f.up));
    const left = COL_LEFT[f.col];
    const top = ROW_TOP[f.row];

    grid.push({ left, top, width: PANEL_W, height: PANEL_H, containLabel: false });

    const labelStyle = { fontSize: 8.2, color: "#4d4d4d", fontFamily: FONT };
    xAxis.push({
      type: "value", gridIndex: i, min: xr[0], max: xr[1],
      axisLine: { show: false }, axisTick: { show: false }, splitLine: { show: false },
      axisLabel: { ...labelStyle, margin: 3.5, customValues: f.xTicks },
    });
    yAxis.push({
      type: "value", gridIndex: i, min: yr[0], max: yr[1],
      axisLine: { show: false }, axisTick: { show: false }, splitLine: { show: false },
      axisLabel: { ...labelStyle, margin: 4, customValues: f.yTicks },
    });

    const gridLines = [
      ...minorBreaks(f.xTicks, xr[0], xr[1]).map((v) => ({ xAxis: v, lineStyle: { color: GRID_MINOR, width: 0.6 } })),
      ...minorBreaks(f.yTicks, yr[0], yr[1]).map((v) => ({ yAxis: v, lineStyle: { color: GRID_MINOR, width: 0.6 } })),
      ...f.xTicks.map((v) => ({ xAxis: v, lineStyle: { color: GRID_MAJOR, width: 1 } })),
      ...f.yTicks.map((v) => ({ yAxis: v, lineStyle: { color: GRID_MAJOR, width: 1 } })),
    ];

    series.push({
      type: "scatter", name: f.key, xAxisIndex: i, yAxisIndex: i,
      data: f.points, symbol: "circle", symbolSize: 4.8, z: 2, silent: true,
      itemStyle: { color: varColors[f.key], opacity: 0.72 },
      markLine: {
        silent: true, symbol: ["none", "none"], z: 1, animation: false,
        label: { show: false }, emphasis: { disabled: true },
        lineStyle: { type: "solid" },
        data: gridLines,
      },
    });

    // 95% confidence band of the smooth, drawn as one closed shape
    const bandRows = f.sx.map((x, k) => [x, f.lo[k], f.up[k]]);
    series.push({
      type: "custom", name: "se", xAxisIndex: i, yAxisIndex: i,
      coordinateSystem: "cartesian2d", silent: true, z: 3,
      encode: { x: 0, y: [1, 2] },
      data: bandRows,
      renderItem: (params: any, api: any) => {
        if (params.dataIndex !== 0) return null;
        const upper = bandRows.map((r) => api.coord([r[0], r[2]]));
        const lower = bandRows.map((r) => api.coord([r[0], r[1]])).reverse();
        const pathData =
          `M${upper[0][0]},${upper[0][1]}` + curveThrough(upper) +
          `L${lower[0][0]},${lower[0][1]}` + curveThrough(lower) + "Z";
        return {
          type: "path",
          shape: { pathData },
          style: { fill: "rgba(153,153,153,0.4)", stroke: "none" },
        };
      },
    });

    series.push({
      type: "line", name: "black", xAxisIndex: i, yAxisIndex: i,
      smooth: 0.35, symbol: "none", silent: true, z: 4,
      color: varColors.black,
      lineStyle: { color: varColors.black, width: 2 },
      data: f.sx.map((x, k) => [x, f.fit[k]]),
    });

    graphic.push({
      type: "text", x: left + PANEL_W / 2, y: top - 8.8,
      style: { text: f.key, fontSize: 8.4, fill: "#1a1a1a", fontFamily: FONT, align: "center", verticalAlign: "middle" },
    });
  });

  graphic.push(
    {
      type: "text", x: 10.5, y: 236.5, rotation: Math.PI / 2,
      style: { text: "Median House Price ($1000s)", fontSize: 10.4, fill: "#000", fontFamily: FONT, align: "center", verticalAlign: "middle" },
    },
    {
      type: "text", x: 222.8, y: 466,
      style: { text: "Variable Value", fontSize: 10.4, fill: "#000", fontFamily: FONT, align: "center", verticalAlign: "middle" },
    },
    {
      type: "text", x: 426, y: 175,
      style: { text: "variable", fontSize: 10.4, fill: "#000", fontFamily: FONT, align: "left", verticalAlign: "middle" },
    },
    {
      type: "rect", z: -1, shape: { x: 427, y: 182.6, width: 17, height: 113.4 },
      style: { fill: "#d9d9d9" },
    }
  );

  return {
    animation: false,
    backgroundColor: "#ffffff",
    textStyle: { fontFamily: FONT },
    grid, xAxis, yAxis, series, graphic,
    legend: {
      data: legendNames, orient: "vertical", left: 427, top: 184.7, padding: 0,
      itemWidth: 17, itemHeight: 4.5, itemGap: 4.2, icon: KEY_ICON, selectedMode: false,
      textStyle: { fontSize: 8.2, color: "#000", fontFamily: FONT, lineHeight: 12 },
    },
  };
}

export default function App() {
  const ref = useRef<HTMLDivElement>(null);
  useEffect(() => {
    if (!ref.current) return;
    const chart = echarts.init(ref.current, undefined, { renderer: "svg" });
    chart.setOption(buildOption() as any);
    return () => chart.dispose();
  }, []);
  return (
    <div
      ref={ref}
      style={{ position: "fixed", left: 0, top: 0, width: 474, height: 474, background: "#fff" }}
    />
  );
}
